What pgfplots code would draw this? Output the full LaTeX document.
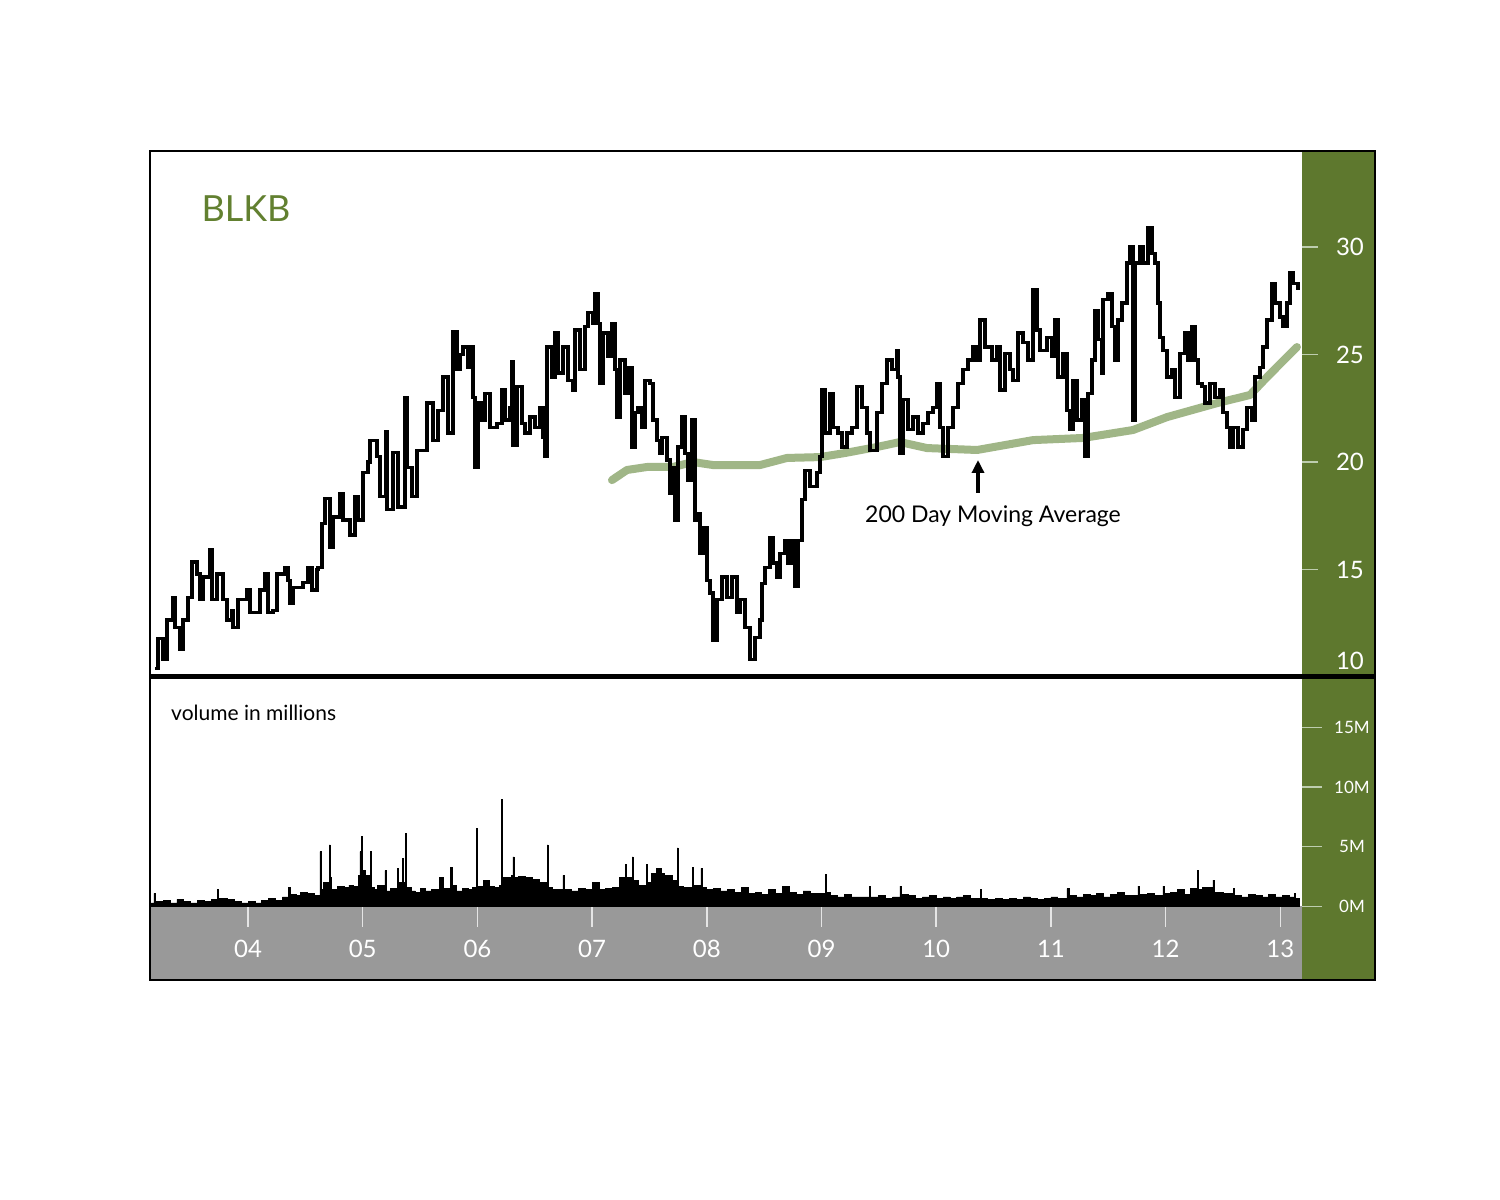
\documentclass[border=0pt]{standalone}
\usepackage{pgfplots}
\usepackage{pgfplotstable}
\pgfplotsset{compat=1.18}
\usepackage{fontspec}
\setmainfont{Lato}
\usetikzlibrary{arrows.meta}
\definecolor{stripgreen}{RGB}{94,120,46}
\definecolor{titlegreen}{RGB}{98,128,48}
\definecolor{magreen}{RGB}{160,182,135}
\definecolor{bandgray}{RGB}{153,153,153}
\definecolor{ticklight}{RGB}{190,205,175}

\pgfplotstableread{
x y
2003.189 10.4
2003.215 11.8
2003.259 10.8
2003.294 12.65
2003.346 13.7
2003.364 12.3
2003.407 11.3
2003.433 12.65
2003.477 13.7
2003.512 15.35
2003.555 14.8
2003.582 13.6
2003.608 14.65
2003.669 15.9
2003.686 13.6
2003.730 14.8
2003.782 13.6
2003.817 12.65
2003.861 13.1
2003.869 12.3
2003.913 13.6
2003.991 14.05
2004.017 13.0
2004.105 14.05
2004.148 14.8
2004.174 13.0
2004.218 13.1
2004.253 14.8
2004.323 15.1
2004.349 14.5
2004.366 13.45
2004.392 14.15
2004.480 14.4
2004.523 15.1
2004.558 14.05
2004.602 15.0
2004.610 15.1
2004.645 17.15
2004.671 18.3
2004.715 16.05
2004.741 17.45
2004.802 18.55
2004.828 17.3
2004.889 16.6
2004.933 18.4
2004.959 17.3
2005.003 19.5
2005.046 20.0
2005.064 21.0
2005.125 20.25
2005.151 18.4
2005.200 21.4
2005.212 17.8
2005.264 20.45
2005.308 17.9
2005.369 23.0
2005.386 19.75
2005.430 18.4
2005.473 20.55
2005.561 22.75
2005.613 21.0
2005.657 22.4
2005.700 23.95
2005.744 21.35
2005.787 26.05
2005.822 24.3
2005.848 25.0
2005.874 25.35
2005.918 24.4
2005.953 25.35
2005.962 23.0
2005.979 19.75
2006.005 22.75
2006.040 21.95
2006.066 23.2
2006.110 21.6
2006.171 21.8
2006.214 23.35
2006.241 21.95
2006.284 22.55
2006.302 24.65
2006.310 20.8
2006.345 23.5
2006.389 21.8
2006.415 21.35
2006.459 22.1
2006.502 21.6
2006.546 22.55
2006.572 21.15
2006.589 20.25
2006.607 25.35
2006.650 23.95
2006.677 26.0
2006.703 24.15
2006.746 25.35
2006.790 23.8
2006.834 23.35
2006.851 26.15
2006.895 24.3
2006.938 26.3
2006.964 26.95
2007.008 26.45
2007.025 27.85
2007.051 26.45
2007.069 23.65
2007.095 26.0
2007.139 24.9
2007.173 26.45
2007.200 24.3
2007.217 22.1
2007.243 24.75
2007.287 23.2
2007.313 24.4
2007.348 20.7
2007.374 22.3
2007.400 22.55
2007.435 21.6
2007.461 23.8
2007.505 23.65
2007.531 21.95
2007.566 21.0
2007.592 20.4
2007.609 21.15
2007.653 20.1
2007.679 18.55
2007.705 19.75
2007.723 17.3
2007.749 20.7
2007.784 22.1
2007.810 20.4
2007.836 19.15
2007.871 21.95
2007.897 17.3
2007.923 17.6
2007.941 15.75
2007.967 16.95
2008.002 14.5
2008.028 13.9
2008.054 11.7
2008.089 13.6
2008.133 14.65
2008.176 13.7
2008.220 14.65
2008.263 13.0
2008.289 13.6
2008.333 12.3
2008.377 10.8
2008.420 11.85
2008.464 12.65
2008.482 14.35
2008.508 15.1
2008.551 16.5
2008.577 15.3
2008.612 14.65
2008.638 15.75
2008.682 16.35
2008.708 15.3
2008.743 16.35
2008.769 14.2
2008.795 16.35
2008.830 18.25
2008.856 19.6
2008.900 18.85
2008.961 19.5
2008.987 20.25
2009.004 23.35
2009.031 21.35
2009.074 23.2
2009.100 21.6
2009.144 21.35
2009.179 20.7
2009.222 21.35
2009.266 21.6
2009.309 23.5
2009.353 22.55
2009.397 21.35
2009.423 20.55
2009.484 22.3
2009.527 23.65
2009.571 24.75
2009.615 24.3
2009.658 25.2
2009.667 23.95
2009.684 20.4
2009.710 22.9
2009.754 21.5
2009.798 22.1
2009.841 21.35
2009.885 21.8
2009.929 22.3
2009.972 22.55
2010.007 23.65
2010.033 21.6
2010.059 20.25
2010.103 21.6
2010.146 22.55
2010.190 23.65
2010.234 24.3
2010.277 24.75
2010.321 25.35
2010.356 24.75
2010.382 26.6
2010.426 25.35
2010.487 24.75
2010.530 25.35
2010.556 23.35
2010.600 25.05
2010.643 24.3
2010.670 23.8
2010.713 26.0
2010.757 25.55
2010.800 24.75
2010.844 28.0
2010.879 26.15
2010.905 25.2
2010.966 25.8
2011.010 24.9
2011.036 26.6
2011.062 23.95
2011.106 25.05
2011.140 22.4
2011.167 21.5
2011.193 23.8
2011.228 21.95
2011.271 22.9
2011.297 20.25
2011.324 23.2
2011.358 24.75
2011.385 27.05
2011.411 25.7
2011.446 24.15
2011.454 27.55
2011.498 27.85
2011.533 26.3
2011.559 24.75
2011.585 26.6
2011.620 27.4
2011.664 29.25
2011.690 30.0
2011.716 21.95
2011.733 29.25
2011.777 30.0
2011.803 29.25
2011.847 30.9
2011.882 29.7
2011.908 29.25
2011.934 27.4
2011.951 25.8
2011.977 25.2
2012.012 23.95
2012.056 24.3
2012.082 23.0
2012.126 25.05
2012.169 26.0
2012.195 24.75
2012.230 26.3
2012.256 24.75
2012.283 23.65
2012.318 23.5
2012.344 22.75
2012.387 23.65
2012.431 23.0
2012.474 23.35
2012.500 22.3
2012.535 21.6
2012.561 20.7
2012.588 21.6
2012.631 20.7
2012.675 21.5
2012.710 22.55
2012.753 21.95
2012.780 23.95
2012.823 24.4
2012.849 25.35
2012.884 26.6
2012.928 28.3
2012.954 27.4
2012.997 26.75
2013.023 26.3
2013.058 27.4
2013.084 28.8
2013.110 28.3
2013.154 28.0
}\pricetable

\pgfplotstableread{
x y
2007.173 19.16
2007.304 19.63
2007.479 19.77
2007.705 19.77
2007.880 20.0
2008.054 19.86
2008.464 19.86
2008.699 20.19
2008.987 20.23
2009.205 20.42
2009.484 20.7
2009.684 20.93
2009.920 20.65
2010.356 20.56
2010.844 21.02
2011.280 21.12
2011.716 21.49
2012.012 22.09
2012.448 22.74
2012.736 23.12
2012.884 23.95
2013.145 25.35
}\matable

\pgfplotstableread{
x y
2003.154 0.3
2003.180 1.1
2003.195 0.4
2003.26 0.5
2003.32 0.3
2003.38 0.6
2003.44 0.4
2003.50 0.3
2003.56 0.5
2003.62 0.4
2003.68 0.6
2003.73 1.4
2003.745 0.7
2003.82 0.6
2003.88 0.4
2003.94 0.3
2004.00 0.4
2004.06 0.3
2004.12 0.5
2004.18 0.7
2004.24 0.5
2004.30 0.8
2004.355 1.6
2004.37 1.0
2004.42 0.9
2004.46 1.2
2004.52 1.1
2004.58 0.9
2004.627 4.6
2004.638 1.4
2004.66 2.0
2004.706 5.15
2004.717 2.4
2004.73 1.4
2004.78 1.7
2004.84 1.6
2004.88 1.8
2004.92 1.7
2004.96 2.6
2004.976 4.6
2004.985 5.9
2004.995 3.0
2005.02 2.6
2005.064 4.6
2005.075 1.6
2005.10 1.4
2005.13 1.8
2005.194 3.0
2005.205 1.3
2005.24 1.5
2005.299 3.2
2005.31 2.0
2005.343 4.0
2005.353 2.0
2005.369 6.15
2005.38 1.6
2005.42 1.3
2005.46 1.2
2005.50 1.5
2005.55 1.3
2005.60 1.4
2005.665 2.4
2005.70 1.5
2005.761 3.3
2005.78 1.8
2005.82 1.3
2005.87 1.5
2005.92 1.4
2005.96 1.6
2005.988 6.5
2005.998 1.7
2006.05 2.2
2006.10 1.7
2006.15 1.6
2006.19 1.8
2006.206 9.0
2006.216 2.4
2006.25 2.4
2006.30 2.6
2006.310 4.15
2006.320 2.4
2006.36 2.5
2006.42 2.4
2006.48 2.3
2006.54 2.0
2006.607 5.15
2006.617 1.6
2006.65 1.4
2006.746 2.6
2006.76 1.4
2006.82 1.3
2006.88 1.5
2006.94 1.4
2007.00 2.0
2007.06 1.4
2007.12 1.5
2007.18 1.6
2007.24 2.4
2007.287 3.55
2007.297 2.4
2007.348 4.15
2007.358 2.2
2007.40 1.8
2007.470 3.55
2007.48 2.0
2007.52 2.8
2007.56 3.2
2007.60 2.8
2007.63 2.6
2007.70 2.2
2007.740 4.9
2007.750 1.7
2007.80 1.6
2007.871 3.3
2007.881 1.8
2007.949 3.2
2007.959 1.6
2008.00 1.4
2008.06 1.5
2008.12 1.3
2008.18 1.4
2008.24 1.2
2008.30 1.6
2008.36 1.1
2008.42 1.2
2008.48 1.0
2008.54 1.4
2008.60 1.1
2008.66 1.65
2008.72 1.2
2008.78 1.0
2008.84 1.3
2008.90 1.1
2009.031 2.7
2009.041 1.2
2009.08 0.9
2009.14 0.8
2009.20 1.0
2009.26 0.8
2009.414 1.65
2009.424 0.8
2009.50 0.9
2009.56 0.7
2009.62 0.8
2009.684 1.7
2009.70 1.0
2009.76 0.9
2009.82 0.7
2009.88 0.8
2009.94 0.9
2010.00 0.7
2010.06 0.8
2010.12 0.7
2010.18 0.8
2010.24 0.9
2010.30 0.7
2010.382 1.4
2010.392 0.7
2010.45 0.6
2010.52 0.7
2010.58 0.6
2010.64 0.7
2010.70 0.6
2010.76 0.8
2010.82 0.7
2010.88 0.6
2010.94 0.7
2011.00 0.8
2011.06 0.7
2011.140 1.5
2011.16 0.9
2011.22 0.8
2011.28 1.0
2011.34 0.9
2011.40 1.1
2011.46 0.8
2011.52 1.0
2011.58 1.2
2011.64 0.9
2011.759 1.7
2011.77 1.0
2011.84 1.1
2011.90 0.9
2011.977 1.7
2011.99 1.1
2012.04 1.2
2012.10 1.4
2012.16 1.0
2012.22 1.5
2012.274 3.0
2012.285 1.4
2012.32 1.6
2012.413 2.2
2012.423 1.2
2012.50 1.1
2012.588 1.5
2012.60 0.9
2012.66 0.8
2012.72 1.0
2012.78 0.9
2012.84 0.8
2012.90 1.0
2012.96 0.8
2013.02 0.9
2013.08 0.8
2013.12 1.1
2013.13 0.7
2013.17 0.7
}\voltable

\begin{document}
\begin{tikzpicture}
\useasboundingbox (0pt,0pt) rectangle (1500pt,1200pt);
\fill[white] (0pt,0pt) rectangle (1500pt,1200pt);
% right green strip and grey date band
\fill[stripgreen] (1302pt,220pt) rectangle (1375pt,1049pt);
\fill[bandgray] (151pt,220pt) rectangle (1302pt,293.5pt);

% price panel
\begin{axis}[
  at={(151pt,523pt)}, anchor=south west,
  width=1151pt, height=526pt, scale only axis,
  xmin=2003.154, xmax=2013.189, ymin=10, ymax=34.47,
  axis line style={draw=none},
  xtick=\empty,
  ytick={15,20,25,30}, yticklabels={15,20,25,30},
  ytick pos=right, tick align=outside, major tick length=16pt,
  y tick style={color=ticklight, line width=1.2pt},
  yticklabel style={font=\fontsize{24}{26}\selectfont, text=white, anchor=center, xshift=32pt},
  extra y ticks={10}, extra y tick labels={10},
  extra y tick style={major tick length=0pt, yticklabel style={yshift=16pt, xshift=16pt}},
  clip=false,
]
\addplot[magreen, line width=8pt, line cap=round, line join=round] table[x=x,y=y] {\matable};
\addplot[black, line width=3.4pt, const plot, line join=miter] table[x=x,y=y] {\pricetable};
\end{axis}

% volume panel
\begin{axis}[
  at={(151pt,293.5pt)}, anchor=south west,
  width=1151pt, height=227.5pt, scale only axis,
  xmin=2003.154, xmax=2013.189, ymin=0, ymax=19.05,
  axis line style={draw=none},
  xtick={2004,2005,2006,2007,2008,2009,2010,2011,2012,2013},
  xticklabels={04,05,06,07,08,09,10,11,12,13},
  xtick pos=bottom, ytick pos=right,
  tick align=outside, major tick length=20pt,
  x tick style={color=white!90!black, line width=1.5pt},
  xticklabel style={font=\fontsize{24}{26}\selectfont, text=white, anchor=center, yshift=-22pt},
  ytick={0,5,10,15}, yticklabels={0M,5M,10M,15M},
  y tick style={color=ticklight, line width=1.2pt},
  yticklabel style={font=\fontsize{17}{19}\selectfont, text=white, anchor=center, xshift=30pt},
  clip=false,
]
\addplot[const plot, fill=black, draw=black, line width=0.8pt] table[x=x,y=y] {\voltable} \closedcycle;
\end{axis}

% separator and frame
\draw[line width=5pt] (150pt,523pt) -- (1375pt,523pt);
\draw[line width=2pt] (150pt,220pt) rectangle (1375pt,1049pt);

% texts
\node[text=titlegreen, font=\fontsize{36}{40}\selectfont, anchor=center] at (246pt,991pt) {BLKB};
\node[font=\fontsize{21}{24}\selectfont, anchor=west, inner sep=0pt] at (171pt,487pt) {volume in millions};
\draw[line width=3.5pt, -{Triangle[length=13pt,width=12pt]}] (978pt,707pt) -- (978pt,740pt);
\node[font=\fontsize{23}{26}\selectfont, anchor=center] at (993pt,684pt) {200 Day Moving Average};
\end{tikzpicture}
\end{document}
